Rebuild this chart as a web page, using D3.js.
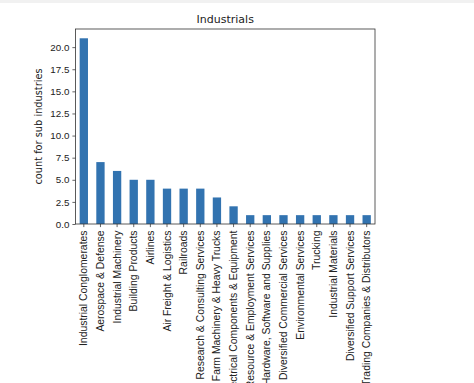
<!DOCTYPE html>
<html>
<head>
<meta charset="utf-8">
<script src="https://cdn.jsdelivr.net/npm/d3@7"></script>
<style>
  body { margin: 0; background: #fff; }
  svg { display: block; font-family: "DejaVu Sans", sans-serif; }
</style>
</head>
<body>
<div id="chart"></div>
<script>
// sub industries of the Industrials sector, sorted by count
const categories = [
  'Industrial Conglomerates',
  'Aerospace & Defense',
  'Industrial Machinery',
  'Building Products',
  'Airlines',
  'Air Freight & Logistics',
  'Railroads',
  'Research & Consulting Services',
  'Agricultural & Farm Machinery & Heavy Trucks',
  'Electrical Components & Equipment',
  'Human Resource & Employment Services',
  'Technology Hardware, Software and Supplies',
  'Diversified Commercial Services',
  'Environmental Services',
  'Trucking',
  'Industrial Materials',
  'Diversified Support Services',
  'Trading Companies & Distributors'
];
const counts = [21, 7, 6, 5, 5, 4, 4, 4, 3, 2, 1, 1, 1, 1, 1, 1, 1, 1];
const yTicks = [0, 2.5, 5, 7.5, 10, 12.5, 15, 17.5, 20];

const width = 474, height = 383;
const margin = { top: 29, right: 99, bottom: 159, left: 75.5 };
const plotW = width - margin.left - margin.right;
const plotH = height - margin.top - margin.bottom;

const svg = d3.select('#chart')
  .append('svg')
  .attr('width', width)
  .attr('height', height);

// light strip at the very top of the notebook cell
svg.append('rect')
  .attr('x', 0).attr('y', 0)
  .attr('width', width).attr('height', 3)
  .attr('fill', '#f1f1f1');

const x = d3.scaleBand()
  .domain(categories)
  .range([0, plotW])
  .paddingInner(0.5)
  .paddingOuter(0.25);

const y = d3.scaleLinear()
  .domain([0, d3.max(counts) * 1.05])
  .range([plotH, 0]);

const g = svg.append('g')
  .attr('transform', 'translate(' + margin.left + ',' + margin.top + ')');

g.append('g')
  .selectAll('rect')
  .data(counts)
  .enter()
  .append('rect')
  .attr('x', (d, i) => x(categories[i]))
  .attr('y', d => y(d))
  .attr('width', x.bandwidth())
  .attr('height', d => plotH - y(d))
  .attr('fill', '#3273b0');

// y axis
const yAxis = g.append('g')
  .call(d3.axisLeft(y).tickValues(yTicks).tickFormat(d3.format('.1f')).tickSize(3.1).tickPadding(3));
yAxis.select('.domain').remove();
yAxis.selectAll('line').attr('stroke', '#222').attr('stroke-width', 0.7);
yAxis.selectAll('text').attr('font-size', '9.8px').attr('fill', '#222');

// x axis
const xAxis = g.append('g')
  .attr('transform', 'translate(0,' + plotH + ')')
  .call(d3.axisBottom(x).tickSize(3.1).tickPadding(3));
xAxis.select('.domain').remove();
xAxis.selectAll('line').attr('stroke', '#222').attr('stroke-width', 0.7);
xAxis.selectAll('text')
  .attr('font-size', '10.4px')
  .attr('fill', '#222')
  .attr('text-anchor', 'end')
  .attr('dy', null)
  .attr('transform', 'rotate(-90)')
  .attr('x', -6.5)
  .attr('y', 0)
  .attr('dominant-baseline', 'central');

// frame
g.append('rect')
  .attr('width', plotW)
  .attr('height', plotH)
  .attr('fill', 'none')
  .attr('stroke', '#333')
  .attr('stroke-width', 0.8);

// title
svg.append('text')
  .attr('x', margin.left + plotW / 2)
  .attr('y', 23)
  .attr('text-anchor', 'middle')
  .attr('font-size', '11px')
  .attr('fill', '#222')
  .text('Industrials');

// y label
svg.append('text')
  .attr('transform', 'translate(38,' + (margin.top + plotH / 2) + ') rotate(-90)')
  .attr('text-anchor', 'middle')
  .attr('dominant-baseline', 'central')
  .attr('font-size', '9.8px')
  .attr('fill', '#222')
  .text('count for sub industries');
</script>
</body>
</html>
